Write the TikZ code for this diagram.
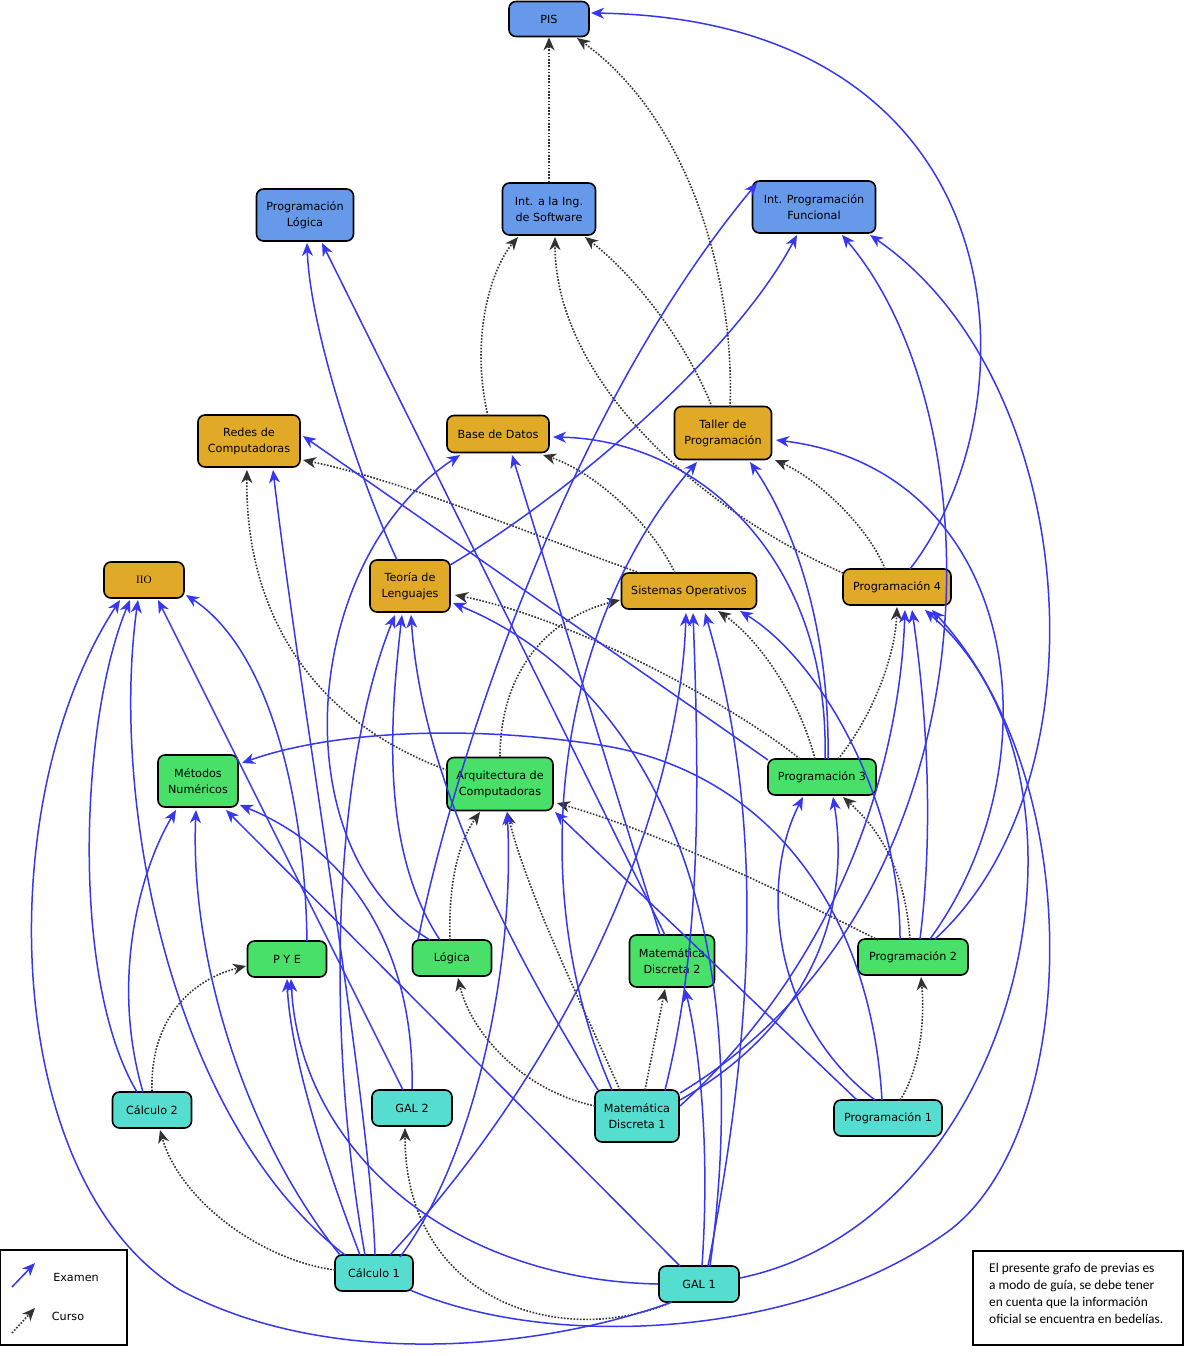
\documentclass[tikz,border=0pt]{standalone}
\usepackage{fontspec}
\setmainfont{DejaVu Sans}
\newfontfamily\notefont{Carlito}
\newfontfamily\serifnote{Liberation Serif}
\usetikzlibrary{arrows.meta}
\definecolor{cblue}{RGB}{102,153,234}
\definecolor{corange}{RGB}{224,170,40}
\definecolor{cgreen}{RGB}{72,224,104}
\definecolor{ccyan}{RGB}{85,221,208}
\definecolor{exblue}{RGB}{55,55,240}
\definecolor{cudark}{RGB}{50,50,50}
\tikzset{
  box/.style={draw=black, line width=1.6pt, rounded corners=7pt, align=center,
    inner sep=0pt, font=\fontsize{11.2}{16}\selectfont},
  bl/.style={box, fill=cblue},
  orr/.style={box, fill=corange},
  gr/.style={box, fill=cgreen},
  cy/.style={box, fill=ccyan},
  ex/.style={draw=exblue, line width=1.5pt, -{Stealth[length=13pt,width=11pt,inset=4pt]}},
  cu/.style={draw=cudark, line width=1.6pt, dash pattern=on 1.6pt off 1.6pt, -{Stealth[length=13pt,width=11pt,inset=4pt]}},
}
\begin{document}
\begin{tikzpicture}[x=1pt,y=-1pt]
\useasboundingbox (0,0) rectangle (1184,1356);
\fill[white] (0,0) rectangle (1184,1356);
% nodes
\node[bl, minimum width=80pt, minimum height=35pt] (pis) at (549,19) {PIS};
\node[bl, minimum width=97pt, minimum height=52pt] (plog) at (305,215) {Programación\\Lógica};
\node[bl, minimum width=93pt, minimum height=52pt] (iis) at (549,209) {Int. a la Ing.\\de Software};
\node[bl, minimum width=123pt, minimum height=52pt] (ipf) at (814,207) {Int. Programación\\Funcional};
\node[orr, minimum width=102pt, minimum height=52pt] (redes) at (249,441) {Redes de\\Computadoras};
\node[orr, minimum width=102pt, minimum height=37pt] (bd) at (498,434) {Base de Datos};
\node[orr, minimum width=97pt, minimum height=53pt] (taller) at (723,433) {Taller de\\Programación};
\node[orr, minimum width=80pt, minimum height=36pt] (iio) at (144,580) {\serifnote IIO};
\node[orr, minimum width=80pt, minimum height=52pt] (tl) at (410,586) {Teoría de\\Lenguajes};
\node[orr, minimum width=135pt, minimum height=36pt] (so) at (689,591) {Sistemas Operativos};
\node[orr, minimum width=108pt, minimum height=36pt] (p4) at (897,587) {Programación 4};
\node[gr, minimum width=80pt, minimum height=52pt] (mn) at (198,781) {Métodos\\Numéricos};
\node[gr, minimum width=106pt, minimum height=53pt] (arq) at (500,784) {Arquitectura de\\Computadoras};
\node[gr, minimum width=108pt, minimum height=36pt] (p3) at (822,777) {Programación 3};
\node[gr, minimum width=79pt, minimum height=36pt] (pye) at (287,959) {P Y E};
\node[gr, minimum width=79pt, minimum height=36pt] (log) at (452,958) {Lógica};
\node[gr, minimum width=85pt, minimum height=52pt] (md2) at (672,961) {Matemática\\Discreta 2};
\node[gr, minimum width=110pt, minimum height=36pt] (p2) at (913,957) {Programación 2};
\node[cy, minimum width=79pt, minimum height=36pt] (c2) at (152,1110) {Cálculo 2};
\node[cy, minimum width=80pt, minimum height=36pt] (gal2) at (412,1108) {GAL 2};
\node[cy, minimum width=84pt, minimum height=52pt] (md1) at (637,1116) {Matemática\\Discreta 1};
\node[cy, minimum width=108pt, minimum height=36pt] (p1) at (888,1118) {Programación 1};
\node[cy, minimum width=78pt, minimum height=36pt] (c1) at (374,1273) {Cálculo 1};
\node[cy, minimum width=80pt, minimum height=36pt] (gal1) at (699,1284) {GAL 1};

% ---------- curso (dotted) ----------
\draw[cu] (iis.north) -- (pis.south);
\draw[cu] ([shift={(7,-26)}]taller.center) .. controls (735,280) and (690,120) .. ([shift={(28,19)}]pis.center);
\draw[cu] ([shift={(-10,-18)}]bd.center) .. controls (470,340) and (490,270) .. ([shift={(-31,28)}]iis.center);
\draw[cu] ([shift={(-11,-26)}]taller.center) .. controls (690,350) and (640,280) .. ([shift={(36,28)}]iis.center);
\draw[cu] ([shift={(-54,-14)}]p4.center) .. controls (700,510) and (555,380) .. ([shift={(6,28)}]iis.center);
\draw[cu] ([shift={(-12,-18)}]p4.center) .. controls (870,530) and (820,480) .. ([shift={(52,27)}]taller.center);
\draw[cu] ([shift={(-14,-18)}]so.center) .. controls (650,520) and (590,470) .. ([shift={(45,21)}]bd.center);
\draw[cu] ([shift={(-49,-18)}]so.center) .. controls (520,530) and (400,480) .. ([shift={(54,19)}]redes.center);
\draw[cu] ([shift={(-53,-14)}]arq.center) .. controls (310,720) and (245,610) .. ([shift={(-2,29)}]redes.center);
\draw[cu] (arq.north) .. controls (500,680) and (540,620) .. ([shift={(-69,9)}]so.center);
\draw[cu] ([shift={(-22,-18)}]p3.center) .. controls (740,710) and (580,620) .. ([shift={(45,9)}]tl.center);
\draw[cu] ([shift={(-7,-18)}]p3.center) .. controls (800,700) and (760,640) .. ([shift={(29,20)}]so.center);
\draw[cu] ([shift={(16,-18)}]p3.center) .. controls (870,720) and (895,660) .. ([shift={(0,20)}]p4.center);
\draw[cu] ([shift={(-3,-18)}]p2.center) .. controls (905,870) and (880,830) .. ([shift={(21,20)}]p3.center);
\draw[cu] ([shift={(-35,-17)}]p2.center) .. controls (760,880) and (650,830) .. ([shift={(57,19)}]arq.center);
\draw[cu] ([shift={(12,-18)}]p1.center) .. controls (920,1070) and (925,1020) .. ([shift={(8,20)}]p2.center);
\draw[cu] (c2.north) .. controls (150,1020) and (190,980) .. ([shift={(-41,7)}]pye.center);
\draw[cu] ([shift={(-39,-3)}]c1.center) .. controls (260,1260) and (180,1200) .. ([shift={(8,20)}]c2.center);
\draw[cu] ([shift={(-42,-10)}]md1.center) .. controls (520,1090) and (470,1030) .. ([shift={(6,20)}]log.center);
\draw[cu] ([shift={(-17,-26)}]md1.center) .. controls (580,1000) and (530,900) .. ([shift={(7,28)}]arq.center);
\draw[cu] ([shift={(8,-26)}]md1.center) -- ([shift={(-7,28)}]md2.center);
\draw[cu] ([shift={(-2,-18)}]log.center) .. controls (448,880) and (460,840) .. ([shift={(-20,28)}]arq.center);
\draw[cu] ([shift={(-27,18)}]gal1.center) .. controls (560,1350) and (405,1300) .. ([shift={(-7,20)}]gal2.center);

% ---------- examen (blue) ----------
\draw[ex] ([shift={(13,-18)}]p4.center) .. controls (1040,400) and (1020,20) .. ([shift={(42,-6)}]pis.center);
\draw[ex] ([shift={(-13,-26)}]tl.center) .. controls (360,480) and (310,330) .. ([shift={(2,28)}]plog.center);
\draw[ex] ([shift={(-7,-26)}]md2.center) -- ([shift={(17,28)}]plog.center);
\draw[ex] ([shift={(-12,-26)}]md2.center) -- ([shift={(14,21)}]bd.center);
\draw[ex] ([shift={(-34,-18)}]log.center) .. controls (450,780) and (560,420) .. ([shift={(-57,-24)}]ipf.center);
\draw[ex] ([shift={(40,-21)}]tl.center) .. controls (560,500) and (730,360) .. ([shift={(-17,28)}]ipf.center);
\draw[ex] ([shift={(43,-23)}]md1.center) .. controls (1000,900) and (1000,420) .. ([shift={(28,28)}]ipf.center);
\draw[ex] ([shift={(22,-18)}]p2.center) .. controls (1110,780) and (1080,380) .. ([shift={(56,28)}]ipf.center);
\draw[ex] ([shift={(-54,-17)}]p3.center) -- ([shift={(54,-5)}]redes.center);
\draw[ex] ([shift={(1,-18)}]c1.center) .. controls (370,1100) and (300,700) .. ([shift={(24,29)}]redes.center);
\draw[ex] ([shift={(-22,-18)}]log.center) .. controls (280,850) and (300,560) .. ([shift={(-38,21)}]bd.center);
\draw[ex] ([shift={(3,-18)}]p3.center) .. controls (830,560) and (700,440) .. ([shift={(55,3)}]bd.center);
\draw[ex] ([shift={(-25,-26)}]md1.center) .. controls (520,880) and (560,620) .. ([shift={(-26,29)}]taller.center);
\draw[ex] ([shift={(6,-18)}]p3.center) .. controls (830,620) and (790,520) .. ([shift={(27,29)}]taller.center);
\draw[ex] ([shift={(17,-18)}]p2.center) .. controls (1060,760) and (1020,470) .. ([shift={(53,7)}]taller.center);
\draw[ex] ([shift={(20,-18)}]pye.center) .. controls (305,800) and (270,650) .. ([shift={(42,15)}]iio.center);
\draw[ex] ([shift={(-9,-18)}]gal2.center) -- ([shift={(14,20)}]iio.center);
\draw[ex] ([shift={(-27,18)}]gal1.center) .. controls (540,1350) and (330,1370) .. (180,1290) .. controls (0,1180) and (-10,800) .. ([shift={(-24,20)}]iio.center);
\draw[ex] ([shift={(-15,-18)}]c2.center) .. controls (70,980) and (80,720) .. ([shift={(-14,20)}]iio.center);
\draw[ex] ([shift={(-29,-18)}]c1.center) .. controls (170,1120) and (110,800) .. ([shift={(-6,20)}]iio.center);
\draw[ex] ([shift={(-6,-18)}]p1.center) .. controls (870,900) and (760,770) .. (600,745) .. controls (450,722) and (320,735) .. ([shift={(44,-18)}]mn.center);
\draw[ex] (gal2.north) .. controls (415,950) and (350,850) .. ([shift={(42,24)}]mn.center);
\draw[ex] ([shift={(-19,-18)}]gal1.center) -- ([shift={(28,29)}]mn.center);
\draw[ex] ([shift={(-34,-18)}]c1.center) .. controls (240,1130) and (190,950) .. ([shift={(-2,29)}]mn.center);
\draw[ex] ([shift={(-9,-18)}]c2.center) .. controls (110,980) and (140,870) .. ([shift={(-22,29)}]mn.center);
\draw[ex] ([shift={(-14,-18)}]c1.center) .. controls (320,1150) and (290,1050) .. ([shift={(0,20)}]pye.center);
\draw[ex] (gal1.west) .. controls (450,1280) and (300,1150) .. ([shift={(4,20)}]pye.center);
\draw[ex] ([shift={(-9,-18)}]c1.center) .. controls (320,1000) and (340,750) .. ([shift={(-15,29)}]tl.center);
\draw[ex] ([shift={(-12,-18)}]log.center) .. controls (380,850) and (390,720) .. ([shift={(-8,29)}]tl.center);
\draw[ex] ([shift={(-39,-26)}]md1.center) .. controls (480,900) and (420,750) .. ([shift={(1,29)}]tl.center);
\draw[ex] ([shift={(11,-18)}]gal1.center) .. controls (760,900) and (640,680) .. ([shift={(43,17)}]tl.center);
\draw[ex] ([shift={(26,-16)}]c1.center) .. controls (480,1150) and (515,950) .. ([shift={(7,28)}]arq.center);
\draw[ex] ([shift={(-31,-18)}]p1.center) -- ([shift={(55,28)}]arq.center);
\draw[ex] ([shift={(-13,-18)}]p1.center) .. controls (770,1020) and (760,880) .. ([shift={(-19,20)}]p3.center);
\draw[ex] ([shift={(43,-16)}]md1.center) .. controls (820,1020) and (850,900) .. ([shift={(11,20)}]p3.center);
\draw[ex] ([shift={(43,-10)}]md1.center) .. controls (850,950) and (900,750) .. ([shift={(8,23)}]p4.center);
\draw[ex] ([shift={(7,-18)}]p2.center) .. controls (935,820) and (925,700) .. ([shift={(15,23)}]p4.center);
\draw[ex] ([shift={(41,-6)}]gal1.center) .. controls (1020,1220) and (1120,780) .. ([shift={(28,23)}]p4.center);
\draw[ex] ([shift={(36,17)}]c1.center) .. controls (550,1350) and (800,1340) .. (950,1230) .. controls (1080,1130) and (1090,780) .. ([shift={(35,23)}]p4.center);
\draw[ex] ([shift={(16,-18)}]c1.center) .. controls (580,1050) and (680,800) .. ([shift={(-3,22)}]so.center);
\draw[ex] ([shift={(28,-26)}]md1.center) .. controls (700,950) and (700,800) .. ([shift={(4,22)}]so.center);
\draw[ex] ([shift={(9,-18)}]gal1.center) .. controls (760,1000) and (760,800) .. ([shift={(16,22)}]so.center);
\draw[ex] ([shift={(-13,-18)}]p2.center) .. controls (900,800) and (820,660) .. ([shift={(51,20)}]so.center);
\draw[ex] ([shift={(3,-18)}]gal1.center) .. controls (710,1150) and (700,1050) .. ([shift={(13,28)}]md2.center);

% ---------- legend ----------
\node[draw=black, line width=1.5pt, minimum width=127pt, minimum height=95pt, inner sep=0pt] (legend) at (63.5,1297.5) {};
\coordinate (lx1) at (12,1287); \coordinate (lx2) at (35,1263);
\coordinate (lc1) at (12,1333); \coordinate (lc2) at (35,1308);
\draw[ex] (lx1) -- (lx2);
\draw[cu] (lc1) -- (lc2);
\node[font=\fontsize{11.2}{14}\selectfont] (lex) at (76,1277) {Examen};
\node[font=\fontsize{11.2}{14}\selectfont] (lcu) at (68,1316) {Curso};
% ---------- note ----------
\node[draw=black, line width=1.5pt, minimum width=210pt, minimum height=94pt, inner sep=0pt] (note) at (1078,1298) {};
\node[anchor=north west, inner sep=0pt, align=left, font=\notefont\fontsize{13.4}{17}\selectfont] (notetxt) at (989,1263) {El presente grafo de previas es\\a modo de guía, se debe tener\\en cuenta que la información\\oficial se encuentra en bedelías.};
\end{tikzpicture}
\end{document}
